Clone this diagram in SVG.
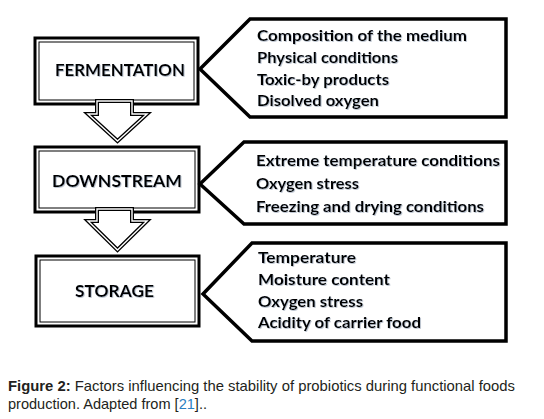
<svg xmlns="http://www.w3.org/2000/svg" width="544" height="419" viewBox="0 0 544 419">
<defs>
<filter id="sh" x="-5%" y="-20%" width="110%" height="140%">
<feDropShadow dx="0.8" dy="0.8" stdDeviation="0.4" flood-color="#7a8aa0" flood-opacity="0.6"/>
</filter>
<style>
.outer{fill:#fff;stroke:#000;stroke-width:3}
.inner{fill:none;stroke:#000;stroke-width:1}
.arrow{fill:#fff;stroke:#000;stroke-width:4;stroke-linejoin:miter}
.arrowIn{fill:none;stroke:#fff;stroke-width:1.4;stroke-linejoin:miter}
.callout{fill:#fff;stroke:#000;stroke-width:3.5;stroke-linejoin:miter}
.lbl{font-family:Lato,"Liberation Sans",sans-serif;font-weight:bold;font-size:17px;fill:#000;text-anchor:middle}
.item{font-family:Lato,"Liberation Sans",sans-serif;font-weight:bold;font-size:15.5px;fill:#000}
.cap{font-family:"Liberation Sans",Arial,sans-serif;font-size:14.5px;fill:#231f20}
</style>
</defs>
<rect width="544" height="419" fill="#fff"/>
<g id="node-fermentation">
<rect class="outer" x="35" y="38" width="163" height="66"/>
<rect class="inner" x="39" y="42" width="155" height="58"/>
<text class="lbl" x="120" y="76" textLength="130" lengthAdjust="spacingAndGlyphs" filter="url(#sh)">FERMENTATION</text>
</g>
<g id="node-downstream">
<rect class="outer" x="35" y="147" width="164" height="65"/>
<rect class="inner" x="39" y="151" width="156" height="57"/>
<text class="lbl" x="117" y="187" textLength="130" lengthAdjust="spacingAndGlyphs" filter="url(#sh)">DOWNSTREAM</text>
</g>
<g id="node-storage">
<rect class="outer" x="36" y="256" width="163" height="70"/>
<rect class="inner" x="40" y="260" width="155" height="62"/>
<text class="lbl" x="114.5" y="297" textLength="79" lengthAdjust="spacingAndGlyphs" filter="url(#sh)">STORAGE</text>
</g>
<g id="connectors">
<polygon class="arrow" points="97,101 132,101 132,114 147,114 117.5,141 88,114 97,114"/>
<polygon class="arrowIn" points="97,101 132,101 132,114 147,114 117.5,141 88,114 97,114"/>
<polygon class="arrow" points="97,209 132,209 132,221 147,221 117.5,250 88,221 97,221"/>
<polygon class="arrowIn" points="97,209 132,209 132,221 147,221 117.5,250 88,221 97,221"/>
</g>
<g id="node-factors-fermentation">
<polygon class="callout" points="200,69 250,19 506,19 506,117 250,117"/>
<g filter="url(#sh)">
<text class="item" x="257" y="41" textLength="210" lengthAdjust="spacingAndGlyphs">Composition of the medium</text>
<text class="item" x="257" y="63" textLength="141" lengthAdjust="spacingAndGlyphs">Physical conditions</text>
<text class="item" x="257" y="85" textLength="132" lengthAdjust="spacingAndGlyphs">Toxic-by products</text>
<text class="item" x="257" y="106" textLength="122" lengthAdjust="spacingAndGlyphs">Disolved oxygen</text>
</g>
</g>
<g id="node-factors-downstream">
<polygon class="callout" points="200,184 244,142 506,142 506,224 244,224"/>
<g filter="url(#sh)">
<text class="item" x="256" y="166" textLength="244" lengthAdjust="spacingAndGlyphs">Extreme temperature conditions</text>
<text class="item" x="256" y="189" textLength="103" lengthAdjust="spacingAndGlyphs">Oxygen stress</text>
<text class="item" x="256" y="212" textLength="228" lengthAdjust="spacingAndGlyphs">Freezing and drying conditions</text>
</g>
</g>
<g id="node-factors-storage">
<polygon class="callout" points="203,294 252,243 506,243 506,341 252,341"/>
<g filter="url(#sh)">
<text class="item" x="258" y="263" textLength="98" lengthAdjust="spacingAndGlyphs">Temperature</text>
<text class="item" x="258" y="285" textLength="132" lengthAdjust="spacingAndGlyphs">Moisture content</text>
<text class="item" x="258" y="307" textLength="105" lengthAdjust="spacingAndGlyphs">Oxygen stress</text>
<text class="item" x="258" y="328" textLength="163" lengthAdjust="spacingAndGlyphs">Acidity of carrier food</text>
</g>
</g>
<g id="caption">
<text class="cap" x="8" y="391" textLength="507" lengthAdjust="spacingAndGlyphs"><tspan font-weight="bold">Figure 2:</tspan> Factors influencing the stability of probiotics during functional foods</text>
<text class="cap" x="8" y="409" textLength="199" lengthAdjust="spacingAndGlyphs">production. Adapted from [<tspan fill="#2a7fc1">21</tspan>]..</text>
</g>
</svg>
